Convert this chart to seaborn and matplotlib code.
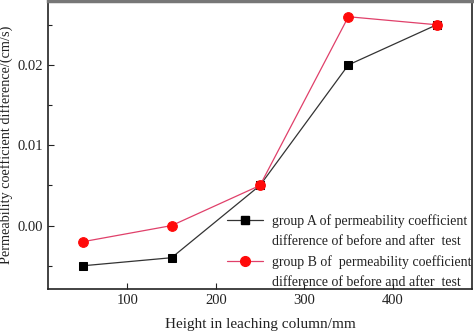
import matplotlib
matplotlib.use("Agg")
import matplotlib.pyplot as plt
import seaborn as sns
import pandas as pd
from matplotlib.ticker import MultipleLocator
from matplotlib.lines import Line2D

heights = [50, 150, 250, 350, 450]
group_a = [-0.005, -0.004, 0.005, 0.020, 0.025]
group_b = [-0.002, 0.000, 0.005, 0.026, 0.025]
label_a = ["group A of permeability coefficient", "difference of before and after  test"]
label_b = ["group B of  permeability coefficient", "difference of before and after  test"]

sns.set_theme(style="ticks")
plt.rcParams['font.family'] = ['Liberation Serif', 'DejaVu Serif']

fig = plt.figure(figsize=(4.74, 3.33), dpi=100)
ax = fig.add_axes([0.101, 0.132, 0.895, 0.866])

df_a = pd.DataFrame({"x": heights, "y": group_a})
df_b = pd.DataFrame({"x": heights, "y": group_b})

sns.lineplot(data=df_a, x="x", y="y", ax=ax, color="#333333", lw=0.9,
             marker="s", markersize=6, markerfacecolor="black",
             markeredgecolor="black")
sns.lineplot(data=df_b, x="x", y="y", ax=ax, color="#e0406a", lw=0.9,
             marker="o", markersize=7, markerfacecolor="#ff0a0a",
             markeredgecolor="#ff0a0a")

ax.set_xlim(10, 490)
ax.set_ylim(-0.0079, 0.028)
ax.set_xticks([100, 200, 300, 400])
ax.yaxis.set_major_locator(MultipleLocator(0.01))
ax.yaxis.set_minor_locator(MultipleLocator(0.005))
ax.yaxis.set_major_formatter(matplotlib.ticker.FormatStrFormatter('%.2f'))
ax.tick_params(direction="in", which="both", labelsize=10.5, colors="#222222",
               length=4, width=0.8)
ax.tick_params(which="minor", length=3)
for s in ["left", "bottom", "right"]:
    ax.spines[s].set_color("#222222")
    ax.spines[s].set_linewidth(1.2)
ax.spines["top"].set_color("#777777")
ax.spines["top"].set_linewidth(2.5)

ax.set_xlabel("Height in leaching column/mm", fontsize=11, color="#222222", labelpad=8)
ax.set_ylabel("Permeability coefficient difference/(cm/s)", fontsize=10.3,
              color="#222222", labelpad=3)

h_a = Line2D([], [], color="#333333", lw=0.9, marker="s", markersize=6,
             markerfacecolor="black", markeredgecolor="black")
h_b = Line2D([], [], color="#e0406a", lw=0.9, marker="o", markersize=7,
             markerfacecolor="#ff0a0a", markeredgecolor="#ff0a0a")
blank = Line2D([], [], color="none", lw=0)
leg = ax.legend([h_a, blank, h_b, blank],
                [label_a[0], label_a[1], label_b[0], label_b[1]],
                loc="lower right", frameon=False, fontsize=10,
                handlelength=2.6, handletextpad=0.6, labelspacing=0.52,
                borderaxespad=0.15, bbox_to_anchor=(1.016, -0.028))
for t in leg.get_texts():
    t.set_color("#222222")

fig.savefig("out.png", dpi=100)
